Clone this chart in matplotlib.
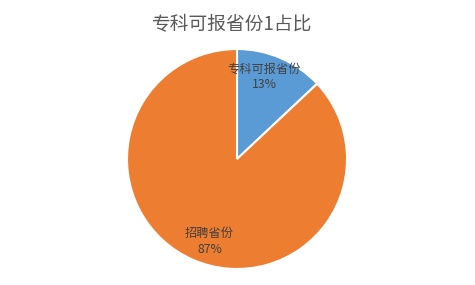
import matplotlib
matplotlib.use("Agg")
import matplotlib.pyplot as plt
import numpy as np

plt.rcParams['font.family'] = ['Noto Sans CJK SC', 'DejaVu Sans']

title = "专科可报省份1占比"
categories = ["专科可报省份", "招聘省份"]
shares = [13, 87]
colors = ["#5B9BD5", "#ED7D31"]

fig = plt.figure(figsize=(4.75, 2.85), dpi=100)
ax = fig.add_axes([127 / 475, 16 / 285, 220 / 475, 220 / 285])

wedges, _ = ax.pie(shares, colors=colors, startangle=90, counterclock=False,
                   radius=1.0, wedgeprops=dict(edgecolor="white", linewidth=1.5))
ax.set_xlim(-1, 1)
ax.set_ylim(-1, 1)
ax.set_aspect("equal")

# labels placed inside each slice, a bit off its middle angle like excel does
for w, name, val in zip(wedges, categories, shares):
    mid = np.deg2rad((w.theta1 + w.theta2) / 2 + 5)
    r = 0.79
    x, y = r * np.cos(mid), r * np.sin(mid)
    ax.text(x, y, f"{name}\n{val}%", ha="center", va="center",
            fontsize=8.8, color="#404040", linespacing=1.25)

fig.text(232 / 475, 1 - 25 / 285, title, ha="center", va="center",
         fontsize=13.5, color="#595959")

fig.savefig("out.png", dpi=100)
